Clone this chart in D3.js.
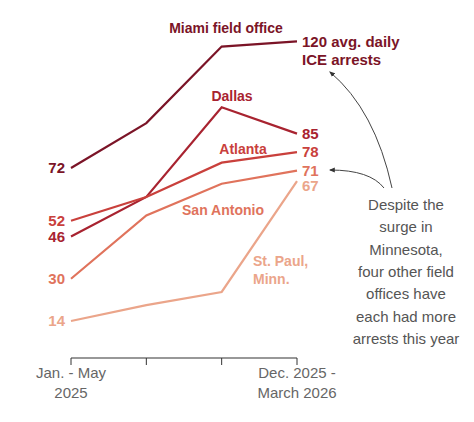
<!DOCTYPE html><html><head><meta charset="utf-8"><script src="https://d3js.org/d3.v7.min.js"></script>
<style>body{margin:0;background:#fff}</style></head><body><svg id="c" width="474" height="422"></svg>
<script>
const periods=["Jan. - May 2025","p2","p3","Dec. 2025 - March 2026"];
const names=["Miami","Dallas","Atlanta","San Antonio","St. Paul"];
const miami=[72,89,118,120], dallas=[46,61,95,85], atlanta=[52,61,74,78], sanAntonio=[30,54,66,71], stPaul=[14,20,25,67];
const colors=["#7b1427","#a82330","#c9403c","#e0735c","#eba58a"];
const series=[miami,dallas,atlanta,sanAntonio,stPaul];
const svg=d3.select("#c");
const x=d3.scalePoint().domain(periods).range([71,297]);
const y=d3.scaleLinear().domain([14,120]).range([321,41.3]);
const font="'Liberation Sans',Arial,sans-serif";
const line=d3.line().x((d,i)=>x(periods[i])).y(d=>y(d));
series.forEach((s,k)=>{
 svg.append("path").attr("d",line(s)).attr("fill","none").attr("stroke",colors[k]).attr("stroke-width",2.2);
 svg.append("text").attr("x",x(periods[0])-6).attr("y",y(s[0])+5).attr("text-anchor","end")
  .attr("font-family",font).attr("font-weight","bold").attr("font-size",15).attr("fill",colors[k]).text(s[0]);
 const ly = k===4 ? y(sanAntonio[3])+20 : y(s[3])+5;
 if(k>0) svg.append("text").attr("x",x(periods[3])+5).attr("y",ly)
  .attr("font-family",font).attr("font-weight","bold").attr("font-size",15).attr("fill",colors[k]).text(s[3]);
});
svg.append("text").attr("x",x(periods[3])+5).attr("y",y(120)+6).attr("font-family",font).attr("font-weight","bold").attr("font-size",15).attr("fill",colors[0]).text("120 avg. daily");
svg.append("text").attr("x",x(periods[3])+5).attr("y",y(120)+24).attr("font-family",font).attr("font-weight","bold").attr("font-size",15).attr("fill",colors[0]).text("ICE arrests");
const lab=(t,xx,yy,c,a)=>svg.append("text").attr("x",xx).attr("y",yy).attr("text-anchor",a||"middle").attr("font-family",font).attr("font-weight","bold").attr("font-size",14).attr("fill",c).text(t);
lab("Miami field office",226,33,colors[0]);
lab("Dallas",232,101,colors[1]);
lab("Atlanta",243,154,colors[2]);
lab("San Antonio",223,215,colors[3]);
lab("St. Paul,",253,266,colors[4],"start");
lab("Minn.",253,284,colors[4],"start");
svg.append("line").attr("x1",71).attr("x2",297).attr("y1",358).attr("y2",358).attr("stroke","#333").attr("stroke-width",1.2);
periods.forEach(p=>svg.append("line").attr("x1",x(p)).attr("x2",x(p)).attr("y1",358).attr("y2",365).attr("stroke","#333"));
[["Jan. - May","2025",x(periods[0])],["Dec. 2025 -","March 2026",x(periods[3])]].forEach(([a,b,xx])=>{
 [a,b].forEach((t,i)=>svg.append("text").attr("x",xx).attr("y",378+i*20).attr("text-anchor","middle").attr("font-family",font).attr("font-size",15).attr("fill","#666").text(t));
});
const ann=["Despite the","surge in","Minnesota,","four other field","offices have","each had more","arrests this year"];
ann.forEach((t,i)=>svg.append("text").attr("x",406).attr("y",210+i*22.3).attr("text-anchor","middle").attr("font-family",font).attr("font-size",15).attr("fill","#555").text(t));
svg.append("defs").append("marker").attr("id","ar").attr("viewBox","0 0 10 10").attr("refX",8).attr("refY",5).attr("markerWidth",6).attr("markerHeight",6).attr("orient","auto")
 .append("path").attr("d","M0,1L10,5L0,9z").attr("fill","#333");
svg.append("path").attr("d","M392,188 Q375,110 330,72").attr("fill","none").attr("stroke","#444").attr("marker-end","url(#ar)");
svg.append("path").attr("d","M384,188 Q370,170 330,170").attr("fill","none").attr("stroke","#444").attr("marker-end","url(#ar)");
</script></body></html>
